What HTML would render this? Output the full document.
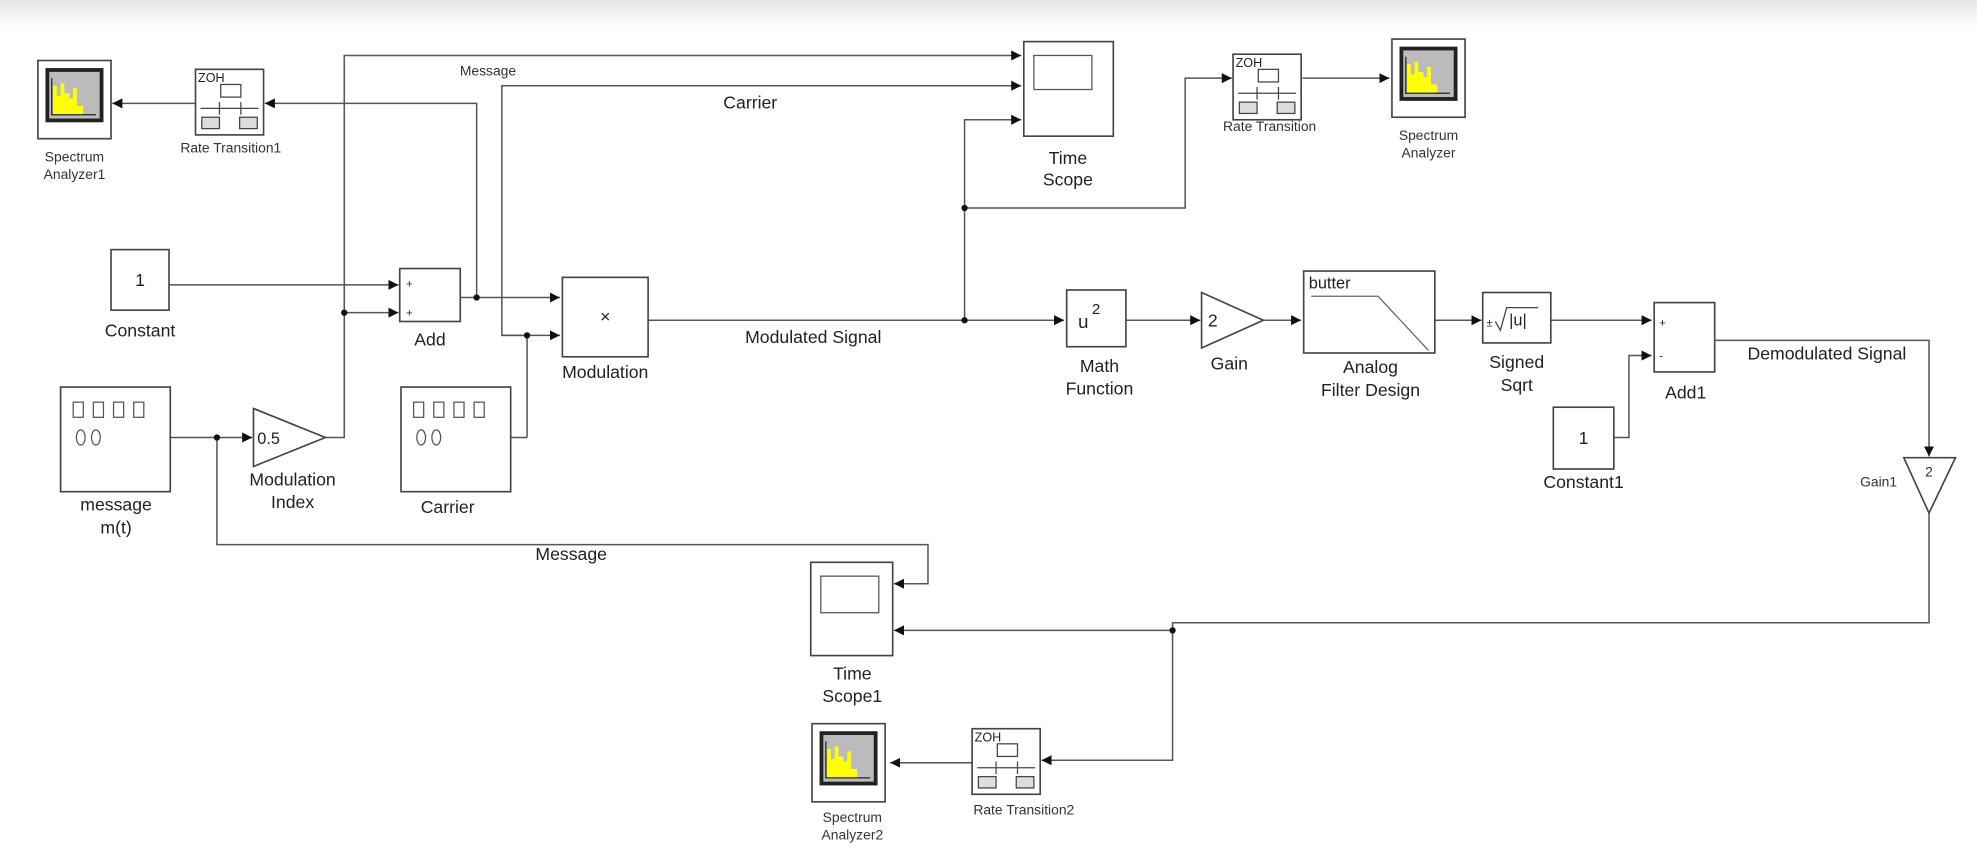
<!DOCTYPE html>
<html><head><meta charset="utf-8">
<style>
html,body{margin:0;padding:0;background:#fff;}
svg{display:block;}
text{font-family:"Liberation Sans",Arial,sans-serif;fill:#222;}
.l{font-size:14px;text-anchor:middle;}
.s{font-size:11px;text-anchor:middle;fill:#333;}
.b{fill:#fff;stroke:#444;stroke-width:1.3;}
.w{fill:none;stroke:#555;stroke-width:1.2;}
</style></head>
<body>
<svg width="1977" height="851" viewBox="0 0 1568 675" xmlns="http://www.w3.org/2000/svg">
<defs>
<linearGradient id="g" x1="0" y1="0" x2="0" y2="1"><stop offset="0" stop-color="#e6e6e6"/><stop offset="1" stop-color="#fff"/></linearGradient>
<marker id="a" viewBox="0 0 10 10" refX="10" refY="5" markerWidth="8" markerHeight="8" markerUnits="userSpaceOnUse" orient="auto"><path d="M0,0 L10,5 L0,10 z" fill="#111"/></marker>
<g id="sa">
<rect x="0" y="0" width="58" height="62" class="b"/>
<rect x="6" y="6" width="46" height="43" fill="#222"/>
<rect x="9" y="9" width="40" height="37" fill="#bbb"/>
<path d="M12,43 L12,20 L15,20 L15,28 L18,28 L18,18 L21,18 L21,26 L25,26 L25,30 L28,30 L28,22 L31,22 L31,36 L36,36 L36,43 z" fill="#ff0"/>
<path d="M11,14 L11,43 L46,43" fill="none" stroke="#222" stroke-width="1"/>
</g>
<g id="rt">
<rect x="0" y="0" width="54" height="52" class="b"/>
<text x="2" y="10" style="font-size:10px">ZOH</text>
<rect x="20" y="12" width="16" height="10" fill="none" stroke="#444"/>
<line x1="4" y1="31" x2="50" y2="31" stroke="#444"/>
<line x1="19" y1="26" x2="19" y2="36" stroke="#444"/><line x1="36" y1="26" x2="36" y2="36" stroke="#444"/>
<rect x="5" y="38" width="14" height="9" fill="#ddd" stroke="#444"/>
<rect x="35" y="38" width="14" height="9" fill="#ddd" stroke="#444"/>
</g>
<g id="sig">
<rect x="0" y="0" width="87" height="83" class="b"/>
<rect x="10" y="12" width="8" height="12" fill="none" stroke="#555"/>
<rect x="26" y="12" width="8" height="12" fill="none" stroke="#555"/>
<rect x="42" y="12" width="8" height="12" fill="none" stroke="#555"/>
<rect x="58" y="12" width="8" height="12" fill="none" stroke="#555"/>
<ellipse cx="16" cy="40" rx="3.5" ry="6" fill="none" stroke="#555"/>
<ellipse cx="28" cy="40" rx="3.5" ry="6" fill="none" stroke="#555"/>
</g>
</defs>
<rect x="0" y="0" width="1568" height="22" fill="url(#g)"/>

<!-- wires -->
<g class="w">
<path d="M155,82 H89" marker-end="url(#a)"/>
<path d="M378,236 V82 H210" marker-end="url(#a)"/>
<path d="M258,347 H273 V44 H810" marker-end="url(#a)"/>
<path d="M418,347 V266 H398 V68 H810" marker-end="url(#a)"/>
<path d="M385,347 H418"/>
<path d="M765,254 V95 H810" marker-end="url(#a)"/>
<path d="M765,165 H940 V62 H977" marker-end="url(#a)"/>
<path d="M1033,62 H1102" marker-end="url(#a)"/>
<path d="M134,226 H316" marker-end="url(#a)"/>
<path d="M273,248 H316" marker-end="url(#a)"/>
<path d="M365,236 H444" marker-end="url(#a)"/>
<path d="M398,266 H444" marker-end="url(#a)"/>
<path d="M135,347 H200" marker-end="url(#a)"/>
<path d="M172,347 V432 H736 V463 H709" marker-end="url(#a)"/>
<path d="M514,254 H844" marker-end="url(#a)"/>
<path d="M893,254 H952" marker-end="url(#a)"/>
<path d="M1002,254 H1032" marker-end="url(#a)"/>
<path d="M1138,254 H1175" marker-end="url(#a)"/>
<path d="M1230,254 H1310" marker-end="url(#a)"/>
<path d="M1280,347 H1292 V282 H1310" marker-end="url(#a)"/>
<path d="M1360,270 H1530 V362" marker-end="url(#a)"/>
<path d="M1530,407 V494 H930 V500 H709" marker-end="url(#a)"/>
<path d="M930,500 V603 H826" marker-end="url(#a)"/>
<path d="M771,605 H706" marker-end="url(#a)"/>
</g>
<g fill="#111">
<circle cx="378" cy="236" r="2.5"/><circle cx="273" cy="248" r="2.5"/><circle cx="418" cy="266" r="2.5"/>
<circle cx="172" cy="347" r="2.5"/><circle cx="765" cy="254" r="2.5"/><circle cx="765" cy="165" r="2.5"/>
<circle cx="930" cy="500" r="2.5"/>
</g>

<!-- blocks -->
<use href="#sa" x="30" y="48"/>
<text class="s" x="59" y="128">Spectrum</text><text class="s" x="59" y="142">Analyzer1</text>
<use href="#rt" x="155" y="55"/>
<text class="s" x="183" y="121">Rate Transition1</text>
<text class="s" x="387" y="60">Message</text>
<text class="l" x="595" y="86">Carrier</text>

<rect x="812" y="33" width="71" height="75" class="b"/>
<rect x="820" y="44" width="46" height="27" fill="none" stroke="#555"/>
<text class="l" x="847" y="130">Time</text><text class="l" x="847" y="147">Scope</text>

<use href="#rt" x="978" y="43" transform="translate(0,0)"/>
<text class="s" x="1007" y="104">Rate Transition</text>
<use href="#sa" x="1104" y="31"/>
<text class="s" x="1133" y="111">Spectrum</text><text class="s" x="1133" y="125">Analyzer</text>

<rect x="88" y="198" width="46" height="48" class="b"/>
<text class="l" x="111" y="227">1</text>
<text class="l" x="111" y="267">Constant</text>

<rect x="317" y="213" width="48" height="42" class="b"/>
<text x="322" y="228" style="font-size:9px">+</text><text x="322" y="251" style="font-size:9px">+</text>
<text class="l" x="341" y="274">Add</text>

<rect x="446" y="220" width="68" height="63" class="b"/>
<text class="l" x="480" y="256">×</text>
<text class="l" x="480" y="300">Modulation</text>

<use href="#sig" x="48" y="307"/>
<text class="l" x="92" y="405">message</text><text class="l" x="92" y="423">m(t)</text>

<path d="M201,324 L258,347 L201,370 z" class="b"/>
<text x="204" y="352" style="font-size:13px">0.5</text>
<text class="l" x="232" y="385">Modulation</text><text class="l" x="232" y="403">Index</text>

<use href="#sig" x="318" y="307"/>
<text class="l" x="355" y="407">Carrier</text>

<text class="l" x="645" y="272">Modulated Signal</text>

<rect x="846" y="230" width="47" height="45" class="b"/>
<text x="855" y="260" style="font-size:15px">u</text><text x="866" y="249" style="font-size:12px">2</text>
<text class="l" x="872" y="295">Math</text><text class="l" x="872" y="313">Function</text>

<path d="M953,232 L1002,254 L953,276 z" class="b"/>
<text x="958" y="259" style="font-size:14px">2</text>
<text class="l" x="975" y="293">Gain</text>

<rect x="1034" y="215" width="104" height="65" class="b"/>
<text x="1038" y="229" style="font-size:13px">butter</text>
<path d="M1040,235 H1093 L1133,278" fill="none" stroke="#666"/>
<text class="l" x="1087" y="296">Analog</text><text class="l" x="1087" y="314">Filter Design</text>

<rect x="1176" y="232" width="54" height="40" class="b"/>
<text x="1179" y="259" style="font-size:9px">±</text>
<path d="M1186,255 L1190,262 L1195,244 H1220" fill="none" stroke="#444"/>
<text x="1197" y="258" style="font-size:13px">|u|</text>
<text class="l" x="1203" y="292">Signed</text><text class="l" x="1203" y="310">Sqrt</text>

<rect x="1312" y="240" width="48" height="55" class="b"/>
<text x="1316" y="259" style="font-size:9px">+</text><text x="1316" y="285" style="font-size:9px">-</text>
<text class="l" x="1337" y="316">Add1</text>
<text class="l" x="1449" y="285">Demodulated Signal</text>

<rect x="1232" y="323" width="48" height="49" class="b"/>
<text class="l" x="1256" y="352">1</text>
<text class="l" x="1256" y="387">Constant1</text>

<path d="M1510,363 L1551,363 L1530,407 z" class="b"/>
<text class="s" x="1530" y="378">2</text>
<text class="s" x="1490" y="386">Gain1</text>

<rect x="643" y="446" width="65" height="74" class="b"/>
<rect x="651" y="457" width="46" height="29" fill="none" stroke="#555"/>
<text class="l" x="676" y="539">Time</text><text class="l" x="676" y="557">Scope1</text>
<text class="l" x="453" y="444">Message</text>

<use href="#rt" x="771" y="578"/>
<text class="s" x="812" y="646">Rate Transition2</text>
<use href="#sa" x="644" y="574"/>
<text class="s" x="676" y="652">Spectrum</text><text class="s" x="676" y="666">Analyzer2</text>
</svg>
</body></html>
